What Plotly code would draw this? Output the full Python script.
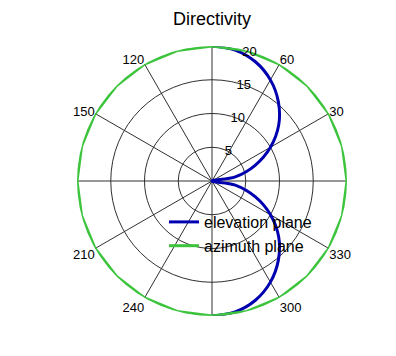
import plotly.graph_objects as go

# Elevation plane
elev_theta = [90, 80, 70, 60, 50, 40, 30, 20, 10, 0,
              350, 340, 330, 320, 310, 300, 290, 280, 270]
elev_r = [20, 19.7, 18.8, 17.3, 15.3, 12.9, 10, 6.8, 3.5, 0,
          3.5, 6.8, 10, 12.9, 15.3, 17.3, 18.8, 19.7, 20]

# Azimuth plane
azim_theta = [0, 15, 30, 45, 60, 75, 90, 105, 120, 135, 150, 165, 180,
              195, 210, 225, 240, 255, 270, 285, 300, 315, 330, 345, 360]
azim_r = [20] * 25

ang_ticks = [0, 30, 60, 90, 120, 150, 180, 210, 240, 270, 300, 330]
ang_text = ["", "30", "60", "", "120", "150", "", "210", "240", "", "300", "330"]
rad_ticks = [5, 10, 15, 20]

fig = go.Figure()
fig.add_trace(go.Scatterpolar(
    r=elev_r, theta=elev_theta, mode="lines", name="elevation plane",
    line=dict(color="#0000b0", width=3, shape="spline"), cliponaxis=False))
fig.add_trace(go.Scatterpolar(
    r=azim_r, theta=azim_theta, mode="lines", name="azimuth plane",
    line=dict(color="#3cc43c", width=3), cliponaxis=False))

R = 135
cx, cy = 204, 356 - 173
fig.update_layout(
    width=396, height=356,
    margin=dict(l=0, r=0, t=0, b=0),
    paper_bgcolor="white",
    font=dict(family="Liberation Sans, Arial, sans-serif", color="black", size=13),
    title=dict(text="Directivity", x=204/396, xanchor="center", y=1-11/356,
               yanchor="middle", font=dict(size=18, color="black")),
    showlegend=True,
    legend=dict(x=156/396, y=1-197/356, xanchor="left", yanchor="top",
                bgcolor="rgba(0,0,0,0)", font=dict(size=16, color="black"),
                tracegroupgap=0, itemwidth=30),
    polar=dict(
        domain=dict(x=[(cx-R)/396, (cx+R)/396], y=[(cy-R)/356, (cy+R)/356]),
        bgcolor="white",
        angularaxis=dict(
            rotation=0, direction="counterclockwise",
            tickmode="array", tickvals=ang_ticks, ticktext=ang_text,
            showgrid=True, gridcolor="#303030", gridwidth=0.7,
            showline=False,
            ticks="", tickfont=dict(size=13, color="black")),
        radialaxis=dict(
            range=[0, 20], angle=80, tickangle=80,
            tickmode="array", tickvals=rad_ticks,
            showgrid=True, gridcolor="#303030", gridwidth=0.7,
            showline=False, ticks="", tickfont=dict(size=13, color="black")),
    ),
)

fig.write_html("out.html")
